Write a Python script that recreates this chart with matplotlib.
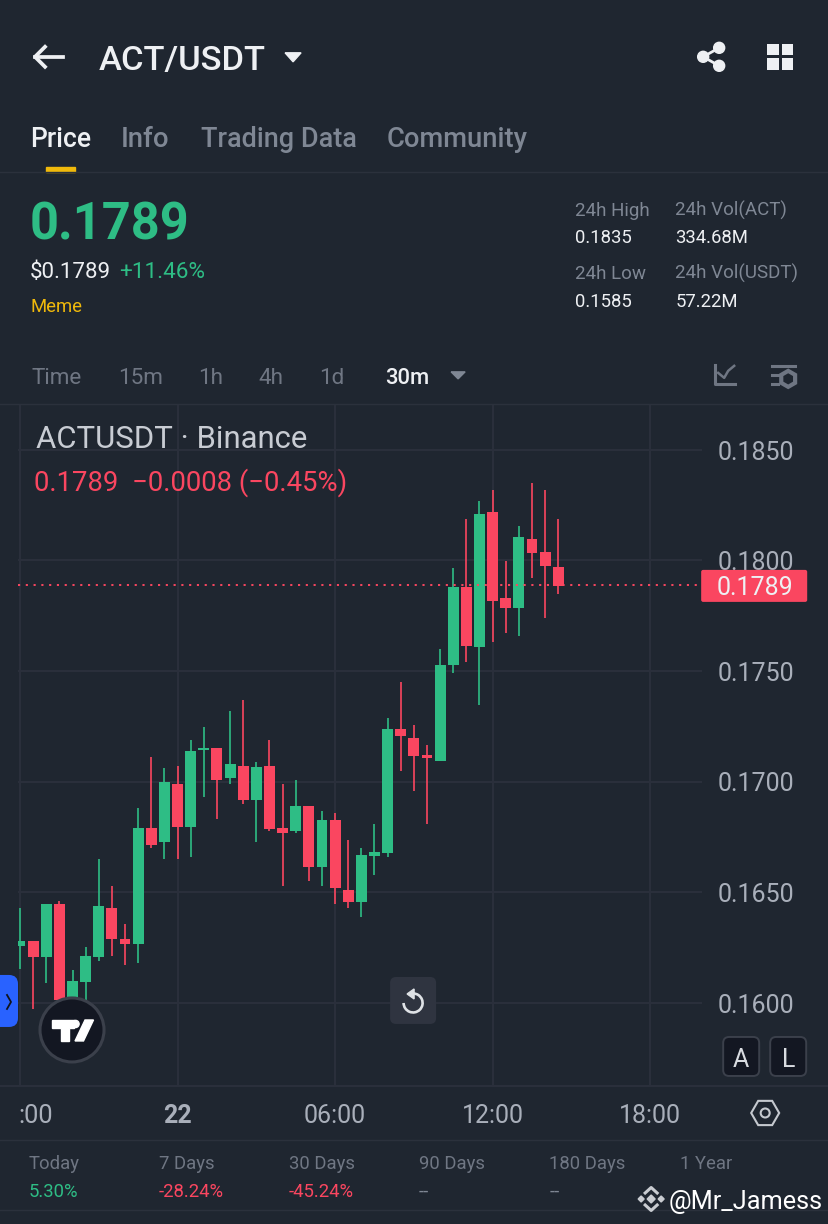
import matplotlib
matplotlib.use("Agg")
import matplotlib.pyplot as plt
from matplotlib.patches import Rectangle, FancyBboxPatch, Circle, Polygon, RegularPolygon, Arc

plt.rcParams['font.family'] = ['Roboto', 'DejaVu Sans']

# 30m candles, first one is 21st 18:00
candle_open = [.16259, .16280, .16209, .16449, .16027, .16096, .16209, .16431, .16288, .16267, .16791,
               .16728, .16989, .16797, .17145, .17151, .17018, .17070, .16918, .17070, .16791,
               .16776, .16890, .16616, .16829, .16509, .16458, .16666, .16679, .17240, .17199,
               .17120, .17095, .17526, .17879, .17608, .18218, .17829, .17787, .18099, .18037, .17969]
candle_high = [.16431, .16280, .16449, .16461, .16149, .16252, .16650, .16529, .16358, .16880, .17111,
               .17061, .17070, .17189, .17249, .17151, .17320, .17370, .17089, .17189, .16989,
               .17008, .16890, .16869, .16860, .16738, .16699, .16809, .17290, .17450, .17258,
               .17168, .17599, .17968, .18189, .18268, .18317, .17998, .18157, .18349, .18317, .18189]
candle_low = [.16152, .15972, .16089, .16000, .16014, .16014, .16191, .16211, .16170, .16179, .16702,
              .16650, .16650, .16661, .16931, .16830, .16989, .16899, .16729, .16779, .16529,
              .16770, .16551, .16529, .16449, .16431, .16390, .16579, .16661, .17050, .16960,
              .16809, .17095, .17490, .17540, .17348, .17630, .17671, .17660, .17921, .17742, .17850]
candle_close = [.16280, .16209, .16449, .16014, .16099, .16211, .16438, .16288, .16267, .16791, .16716,
                .16999, .16797, .17139, .17154, .17007, .17079, .16918, .17068, .16788, .16768,
                .16890, .16616, .16829, .16520, .16458, .16669, .16681, .17240, .17207, .17116,
                .17107, .17528, .17879, .17615, .18209, .17816, .17787, .18108, .18035, .17975, .17885]

price_ticks = [.16, .165, .17, .175, .18, .185]
time_ticks = [12, 24, 36, 48]
time_labels = ['22', '06:00', '12:00', '18:00']
grid_left_tick = 0
last_price = 0.1789

period_names = ['Today', '7 Days', '30 Days', '90 Days', '180 Days', '1 Year']
period_values = ['5.30%', '-28.24%', '-45.24%', '--', '--', '']

BG = '#1f2630'
GREEN = '#2ebd85'
RED = '#fa4660'
GRAY = '#7f8794'
GRID = '#2b303c'
SEP = '#2b313c'
WHITE = '#eef0f3'

W, H = 828, 1224
fig = plt.figure(figsize=((W + 0.2) / 100, (H + 0.2) / 100), dpi=100, facecolor=BG)

# chart pane, placed in pixels
left, right, top, bottom = 18, 702, 404, 1086
ax = fig.add_axes([left / W, 1 - bottom / H, (right - left) / W, (bottom - top) / H], facecolor=BG, zorder=1)
ax.set_xlim((left - 20) / 13.125, (right - 20) / 13.125)
ax.set_ylim(.16 + (1003 - bottom) / 22120, .16 + (1003 - top) / 22120)

idx = list(range(len(candle_open)))
colors = [GREEN if c >= o else RED for o, c in zip(candle_open, candle_close)]
body_low = [min(o, c) for o, c in zip(candle_open, candle_close)]
body_h = [abs(o - c) for o, c in zip(candle_open, candle_close)]

ax.vlines(idx, candle_low, candle_high, colors=colors, lw=1.2, zorder=3)
ax.bar(idx, body_h, bottom=body_low, width=0.83, color=colors, zorder=4)
ax.axhline(last_price, color=RED, lw=1.4, ls=(0, (1.1, 2.9)), zorder=5)

ax.set_yticks(price_ticks)
ax.set_yticklabels(['%.4f' % p for p in price_ticks])
ax.yaxis.tick_right()
ax.set_xticks([grid_left_tick] + time_ticks)
ax.set_xticklabels([''] + time_labels)
ax.tick_params(axis='y', length=0, pad=11, labelsize=18, labelcolor='#a9afba')
ax.tick_params(axis='x', length=0, pad=12.5, labelsize=18, labelcolor='#a9afba')
ax.get_xticklabels()[1].set_fontweight('bold')
ax.grid(True, color=GRID, lw=1.4)
ax.set_axisbelow(True)
for s in ax.spines.values():
    s.set_visible(False)

# everything around the chart, in pixel coords
ui = fig.add_axes([0, 0, 1, 1], zorder=2)
ui.set_xlim(0, W)
ui.set_ylim(H, 0)
ui.axis('off')
ui.patch.set_alpha(0)


def txt(x, y, s, px, color=WHITE, weight='normal', ha='left'):
    ui.text(x, y, s, fontsize=px * 0.72, color=color, fontweight=weight, ha=ha, va='center_baseline')


# header
ui.plot([35, 63], [57, 57], color=WHITE, lw=2.7)
ui.plot([45, 35, 45], [47, 57, 67], color=WHITE, lw=2.7)
txt(99, 57, 'ACT/USDT', 34.5, WHITE, 'medium')
ui.add_patch(Polygon([(285, 53), (301, 53), (293, 62)], color=WHITE))
for c in [(719, 48), (703, 57), (719, 66)]:
    ui.plot([c[0], 703], [c[1], 57], color=WHITE, lw=2)
    ui.add_patch(Circle(c, 5.5, color=WHITE))
for gx in (767, 781.5):
    for gy in (44, 58.5):
        ui.add_patch(Rectangle((gx, gy), 11.5, 11.5, fc=WHITE, ec='none'))

# tabs
txt(30, 136, 'Price', 26.5, WHITE, 'medium')
txt(121, 136, 'Info', 27.5, GRAY, 'medium')
txt(201, 136, 'Trading Data', 27, GRAY, 'medium')
txt(387, 136, 'Community', 27.4, GRAY, 'medium')
ui.add_patch(Rectangle((46, 167), 29, 5, color='#f0b90b'))
ui.plot([0, W], [172.5, 172.5], color=SEP, lw=1)

# price block
txt(30, 220, '0.1789', 50.5, GREEN, 'bold')
txt(30, 269.5, '$0.1789', 22.3, WHITE)
txt(119, 269.5, '+11.46%', 22.5, GREEN)
txt(30, 305, 'Meme', 18.5, '#f0b90b')
txt(575, 208.5, '24h High', 18.8, GRAY)
txt(575, 235.5, '0.1835', 18.5, WHITE)
txt(675, 208.5, '24h Vol(ACT)', 18.8, GRAY)
txt(675, 235.5, '334.68M', 18.5, WHITE)
txt(575, 271.5, '24h Low', 18.8, GRAY)
txt(575, 299.5, '0.1585', 18.5, WHITE)
txt(675, 271.5, '24h Vol(USDT)', 18.8, GRAY)
txt(675, 299.5, '57.22M', 18.5, WHITE)

# interval row
for x, s in [(31, 'Time'), (118, '15m'), (198, '1h'), (258, '4h'), (319, '1d')]:
    txt(x, 376, s, 22.5, '#6f7683')
txt(385, 376, '30m', 22, WHITE, 'medium')
ui.add_patch(Polygon([(451, 372), (465, 372), (458, 379)], color=GRAY))
ui.plot([715, 715, 735], [365, 384, 384], color='#6f7683', lw=2.2)
ui.plot([718, 724, 728, 734], [373, 378, 371, 366], color='#6f7683', lw=1.8)
ui.plot([772, 795], [366, 366], color='#6f7683', lw=2.2)
ui.plot([772, 778], [375, 375], color='#6f7683', lw=2.2)
ui.plot([772, 778], [384, 384], color='#6f7683', lw=2.2)
ui.add_patch(RegularPolygon((788, 379), 6, radius=8, fc='none', ec='#6f7683', lw=3))
ui.plot([0, W], [404, 404], color=SEP, lw=1)

# chart overlays
txt(36, 436, 'ACTUSDT · Binance', 31.2, '#c8ccd3')
txt(34, 479, '0.1789  −0.0008 (−0.45%)', 27.5, RED)
ui.add_patch(FancyBboxPatch((703, 572), 102, 28, boxstyle='round,pad=2,rounding_size=2', fc=RED, ec='none'))
txt(755, 585, '0.1789', 25, WHITE, ha='center')
txt(18, 1113, ':00', 25.5, '#a9afba')

# side pill
ui.add_patch(FancyBboxPatch((-12, 977), 28, 48, boxstyle='round,pad=2,rounding_size=9', fc='#2962ff', ec='none'))
ui.plot([7, 11, 7], [995, 1002, 1009], color='#10141c', lw=1.3)

# tradingview logo
ui.add_patch(Circle((72, 1030), 32, fc='#131722', ec='#3b404b', lw=2.2, zorder=6))
ui.add_patch(Polygon([(52, 1020), (74, 1020), (74, 1028), (69, 1028), (69, 1041), (61, 1041), (61, 1028), (52, 1028)],
                     color='white', zorder=7))
ui.add_patch(Circle((75.5, 1024), 3.6, color='white', zorder=7))
ui.add_patch(Polygon([(85, 1020), (93.5, 1020), (83.5, 1041), (75, 1041)], color='white', zorder=7))

# reset button
ui.add_patch(FancyBboxPatch((392, 979), 42, 43, boxstyle='round,pad=2,rounding_size=6', fc='#2f3440', ec='none'))
ui.add_patch(Arc((413, 1003), 19, 19, theta1=-90, theta2=180, color='#dfe2e6', lw=1.9))
ui.add_patch(Polygon([(407, 994), (414, 989), (414, 999)], color='#dfe2e6'))

# A / L buttons
for bx, s in [(722, 'A'), (769, 'L')]:
    ui.add_patch(FancyBboxPatch((bx + 2, 1038), 34, 37, boxstyle='round,pad=1,rounding_size=6', fc='#131722', ec='#3b404b', lw=1.4))
    txt(bx + 19, 1057, s, 25, '#d9dce1', ha='center')

# settings hexagon under the axis
ui.add_patch(RegularPolygon((765, 1113), 6, radius=14, orientation=0.5236, fc='none', ec='#c5c9cf', lw=1.5))
ui.add_patch(Circle((765, 1113), 4.5, fc='none', ec='#c5c9cf', lw=1.5))

# bottom row
ui.plot([0, W], [1086, 1086], color=GRID, lw=1.4)
ui.plot([0, W], [1140, 1140], color=SEP, lw=1)
ui.plot([0, W], [1210, 1210], color=SEP, lw=1)
for x, name, val in zip([29, 159, 289, 419, 549, 680], period_names, period_values):
    txt(x, 1162, name, 18.5, '#6f7683')
    col = GREEN if val.startswith('5') else (RED if val.startswith('-2') or val.startswith('-4') else GRAY)
    txt(x, 1189.5, val, 18.5, col)

# watermark
LOGO = '#c9ccd1'
ui.add_patch(Polygon([(647, 1199), (651, 1195), (655, 1199), (651, 1203)], color=LOGO))
ui.add_patch(Polygon([(638, 1199), (641, 1196), (644, 1199), (641, 1202)], color=LOGO))
ui.add_patch(Polygon([(658, 1199), (661, 1196), (664, 1199), (661, 1202)], color=LOGO))
ui.plot([645, 651, 657], [1193, 1187.5, 1193], color=LOGO, lw=2.2)
ui.plot([645, 651, 657], [1205, 1210.5, 1205], color=LOGO, lw=2.2)
txt(668, 1199.5, '@Mr_Jamess', 25.2, 'white')

fig.savefig('out.png', dpi=100, facecolor=BG)
